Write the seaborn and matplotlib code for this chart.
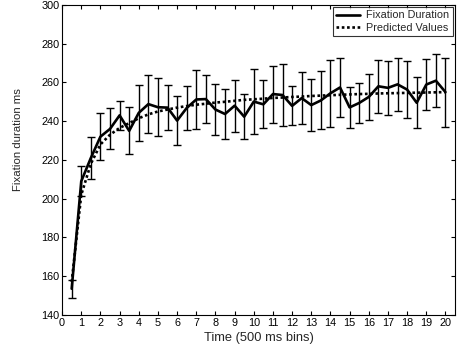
import numpy as np
import pandas as pd
import matplotlib
matplotlib.use("Agg")
import matplotlib.pyplot as plt
import seaborn as sns

# time bins (500 ms each)
time_bins = [0.5, 1, 1.5, 2, 2.5, 3, 3.5, 4, 4.5, 5, 5.5, 6, 6.5, 7, 7.5, 8, 8.5, 9, 9.5, 10,
             10.5, 11, 11.5, 12, 12.5, 13, 13.5, 14, 14.5, 15, 15.5, 16, 16.5, 17, 17.5, 18, 18.5, 19, 19.5, 20]

fixation_ms = [153.5, 209, 221, 232, 236, 243, 235, 244.3, 248.8, 247.2,
               247, 240.3, 246.8, 251.2, 251.4, 246, 243.7, 248, 242.3, 250.1,
               248.7, 254, 253.5, 247.9, 251.9, 248.3, 250.7, 254.4, 257.4, 247.1,
               249.4, 252.5, 258, 257.2, 259, 256.3, 249.5, 258.9, 260.9, 255]

fixation_err = [4.7, 7.7, 11, 12, 10.6, 7.5, 12.2, 14.3, 15, 15,
                11.7, 12.5, 11.6, 15.4, 12.5, 13.2, 12.9, 13.4, 11.7, 16.7,
                12.3, 14.7, 16, 10, 13.5, 13.5, 15, 17.2, 15, 10.4,
                10.2, 11.9, 13.6, 14, 13.5, 14.8, 13.2, 13.1, 13.7, 17.8]

predicted_ms = [157, 202, 218, 228, 233, 236.5, 239, 241.5, 243.5, 245,
                246, 247, 247.8, 248.5, 249, 249.6, 250, 250.5, 251, 251.3,
                251.6, 252, 252.2, 252.5, 252.7, 253, 253.2, 253.4, 253.6, 253.8,
                254, 254.1, 254.3, 254.4, 254.5, 254.6, 254.7, 254.8, 254.9, 255]

df = pd.DataFrame({"time": time_bins, "fixation": fixation_ms,
                   "err": fixation_err, "predicted": predicted_ms})

sns.set_theme(style="ticks")
plt.rcParams["font.family"] = ["Liberation Sans", "DejaVu Sans"]

fig = plt.figure(figsize=(4.74, 3.53), dpi=100)
ax = fig.add_axes([0.131, 0.108, 0.829, 0.878])

ax.errorbar(df["time"], df["fixation"], yerr=df["err"], fmt="none",
            ecolor="black", elinewidth=1.0, capsize=3, capthick=1.0, zorder=2)
sns.lineplot(data=df, x="time", y="fixation", ax=ax, color="black",
             linewidth=1.9, label="Fixation Duration", zorder=3)
sns.lineplot(data=df, x="time", y="predicted", ax=ax, color="black",
             linewidth=1.9, linestyle=(0, (1, 1)), label="Predicted Values", zorder=4)

ax.set_xlim(0, 20.5)
ax.set_ylim(140, 300)
ax.set_xticks(range(0, 21))
ax.set_yticks(range(140, 301, 20))
ax.tick_params(direction="in", top=True, right=True, labelsize=7.8,
               length=3, width=0.8, pad=2, colors="black")
for s in ax.spines.values():
    s.set_visible(True)
    s.set_linewidth(0.8)
    s.set_color("black")

ax.set_xlabel("Time (500 ms bins)", fontsize=9.3, labelpad=3)
ax.set_ylabel("Fixation duration ms", fontsize=8.2)
ax.yaxis.set_label_coords(-0.099, 0.565)

leg = ax.legend(loc="upper right", fontsize=7.8, frameon=True, fancybox=False,
                borderpad=0.3, handlelength=2.2, labelspacing=0.2,
                borderaxespad=0.2, handletextpad=0.6)
leg.get_frame().set_edgecolor("black")
leg.get_frame().set_linewidth(0.8)

fig.savefig("out.png", dpi=100)
